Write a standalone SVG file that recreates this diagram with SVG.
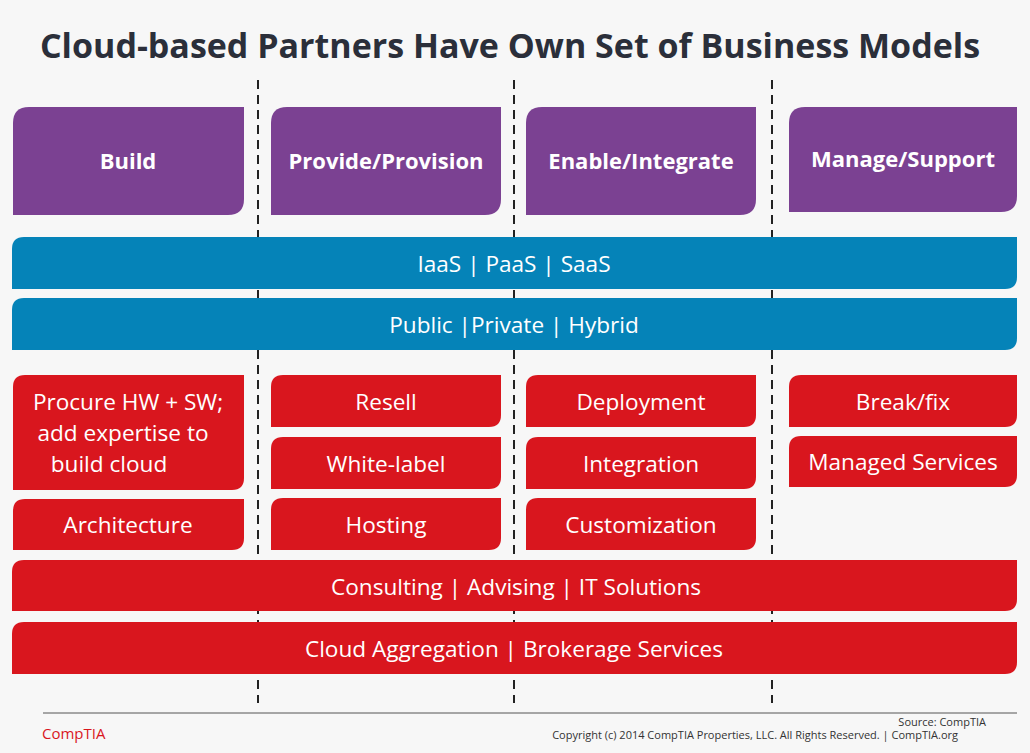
<svg xmlns="http://www.w3.org/2000/svg" width="1030" height="753" viewBox="0 0 1030 753">
<style>
.p{fill:#7b4192}.b{fill:#0583b8}.r{fill:#d9161e}
.t{font-family:"Open Sans",sans-serif;fill:#fff;text-anchor:middle;font-size:22.6px}
.h{font-weight:bold;font-size:22px}
.d{stroke:#222;stroke-width:2;stroke-dasharray:9,6}
</style>
<rect width="1030" height="753" fill="#f7f7f7"/>
<text x="510" y="58" font-family="Open Sans,sans-serif" font-weight="bold" font-size="34" fill="#2b2f3a" text-anchor="middle">Cloud-based Partners Have Own Set of Business Models</text>
<g id="connectors">
<line class="d" x1="258" y1="80" x2="258" y2="703"/>
<line class="d" x1="514" y1="80" x2="514" y2="703"/>
<line class="d" x1="772" y1="80" x2="772" y2="703"/>
</g>
<g id="build"><path class="p" d="M13,123Q13,107 29,107H244V199Q244,215 228,215H13Z"/><text class="t h" x="128" y="169">Build</text></g>
<g id="provide"><path class="p" d="M271,123Q271,107 287,107H501V199Q501,215 485,215H271Z"/><text class="t h" x="386" y="169">Provide/Provision</text></g>
<g id="enable"><path class="p" d="M526,123Q526,107 542,107H756V199Q756,215 740,215H526Z"/><text class="t h" x="641" y="169">Enable/Integrate</text></g>
<g id="manage"><path class="p" d="M789,123Q789,107 805,107H1017V196Q1017,212 1001,212H789Z"/><text class="t h" x="903" y="167">Manage/Support</text></g>
<g id="iaas"><path class="b" d="M12,249Q12,237 24,237H1017V277Q1017,289 1005,289H12Z"/><text class="t" x="514" y="272">IaaS | PaaS | SaaS</text></g>
<g id="public"><path class="b" d="M12,310Q12,298 24,298H1017V338Q1017,350 1005,350H12Z"/><text class="t" x="514" y="333">Public |Private | Hybrid</text></g>
<g id="procure"><path class="r" d="M13,387Q13,375 25,375H244V478Q244,490 232,490H13Z"/><text class="t" x="128" y="410">Procure HW + SW;</text><text class="t" x="123" y="441">add expertise to</text><text class="t" x="109" y="472">build cloud</text></g>
<g id="architecture"><path class="r" d="M13,511Q13,499 25,499H244V538Q244,550 232,550H13Z"/><text class="t" x="128" y="533">Architecture</text></g>
<g id="resell"><path class="r" d="M271,387Q271,375 283,375H501V415Q501,427 489,427H271Z"/><text class="t" x="386" y="410">Resell</text></g>
<g id="whitelabel"><path class="r" d="M271,449Q271,437 283,437H501V477Q501,489 489,489H271Z"/><text class="t" x="386" y="472">White-label</text></g>
<g id="hosting"><path class="r" d="M271,510Q271,498 283,498H501V538Q501,550 489,550H271Z"/><text class="t" x="386" y="533">Hosting</text></g>
<g id="deployment"><path class="r" d="M526,387Q526,375 538,375H756V415Q756,427 744,427H526Z"/><text class="t" x="641" y="410">Deployment</text></g>
<g id="integration"><path class="r" d="M526,449Q526,437 538,437H756V477Q756,489 744,489H526Z"/><text class="t" x="641" y="472">Integration</text></g>
<g id="customization"><path class="r" d="M526,510Q526,498 538,498H756V538Q756,550 744,550H526Z"/><text class="t" x="641" y="533">Customization</text></g>
<g id="breakfix"><path class="r" d="M789,387Q789,375 801,375H1017V415Q1017,427 1005,427H789Z"/><text class="t" x="903" y="410">Break/fix</text></g>
<g id="managed"><path class="r" d="M789,448Q789,436 801,436H1017V475Q1017,487 1005,487H789Z"/><text class="t" x="903" y="470">Managed Services</text></g>
<g id="consulting"><path class="r" d="M12,572Q12,560 24,560H1017V599Q1017,611 1005,611H12Z"/><text class="t" x="516" y="595">Consulting | Advising | IT Solutions</text></g>
<g id="aggregation"><path class="r" d="M12,634Q12,622 24,622H1017V662Q1017,674 1005,674H12Z"/><text class="t" x="514" y="657">Cloud Aggregation | Brokerage Services</text></g>
<line x1="43" y1="713" x2="1017" y2="713" stroke="#555" stroke-width="1"/>
<text x="42" y="739" font-family="Open Sans,sans-serif" font-size="15" fill="#d9161e">CompTIA</text>
<text x="986" y="726" font-family="Open Sans,sans-serif" font-size="11" fill="#333" text-anchor="end">Source: CompTIA</text>
<text x="958" y="739" font-family="Open Sans,sans-serif" font-size="11" fill="#333" text-anchor="end">Copyright (c) 2014 CompTIA Properties, LLC.  All Rights Reserved.  |  CompTIA.org</text>
</svg>
